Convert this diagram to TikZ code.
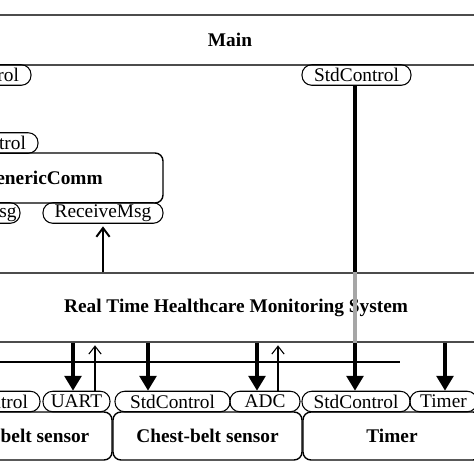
\documentclass[tikz,border=0pt]{standalone}
\usepackage{fontspec}
\setmainfont{Liberation Serif}
\usepackage{tikz}
\usetikzlibrary{arrows.meta, positioning}
\tikzset{
    iface/.style={
        draw,
        line width=0.6pt,
        rounded corners=5.5pt,
        inner sep=0pt,
        minimum height=0.41cm,
        font=\fontsize{11pt}{13pt}\selectfont
    },
    comp/.style={
        draw,
        line width=0.8pt,
        rounded corners=4.5pt,
        inner sep=0pt,
        minimum height=0.96cm,
        font=\fontsize{11pt}{13pt}\selectfont\bfseries
    },
    band/.style={
        comp,
        draw=black!70,
        rounded corners=0pt
    },
    wire/.style={
        line width=2.2pt,
        -{Triangle[width=9.5pt,length=8.5pt]}
    },
    ack/.style={
        line width=0.6pt,
        -{Straight Barb[width=7pt,length=4.5pt]},
        shorten >=1.5pt
    },
    uplink/.style={
        line width=1.1pt,
        -{Straight Barb[width=7.5pt,length=5pt]},
        shorten >=1.5pt
    }
}

\begin{document}
\begin{tikzpicture}[x=0.02cm,y=-0.02cm]
	\useasboundingbox (0,0) rectangle (474,474);
	\clip (0,0) rectangle (474,474);
	% Main
	\node[band, minimum width=10.4cm, minimum height=1cm] at (230,40) (main) {Main};
	\node[iface, minimum width=2.18cm] at (-23.5,75) (mainctlA) {StdControl};
	\node[iface, minimum width=2.18cm] at (356.5,75) (mainctlB) {StdControl};
	% GenericComm
	\node[iface, minimum width=2.18cm] at (-16.5,143) (commctl) {StdControl};
	\node[comp, minimum width=4.84cm, minimum height=1cm] at (42,178) (comm) {GenericComm};
	\node[iface, minimum width=1.6cm] at (-20,213) (sendmsg) {SendMsg};
	\node[iface, minimum width=2.4cm] at (103,213) (recvmsg) {ReceiveMsg};
	% application
	\node[band, minimum width=10.8cm, minimum height=1.38cm] at (236,307.5) (rthms) {Real Time Healthcare Monitoring System};
	% sensors and timer
	\node[iface, minimum width=2.18cm] at (-14.5,401.5) (wristctl) {StdControl};
	\node[iface, minimum width=1.34cm] at (76.5,401.5) (uart) {UART};
	\node[iface, minimum width=2.3cm] at (172.5,401.5) (chestctl) {StdControl};
	\node[iface, minimum width=1.4cm] at (265,401.5) (adc) {ADC};
	\node[iface, minimum width=2.16cm] at (356,401.5) (timerctl) {StdControl};
	\node[iface, minimum width=1.34cm] at (443.5,401.5) (timerif) {Timer};
	\node[comp, minimum width=2.68cm] at (45,436) (wrist) {belt sensor};
	\node[comp, minimum width=3.78cm] at (207.5,436) (chest) {Chest-belt sensor};
	\node[comp, minimum width=3.56cm] at (392,436) (timer) {Timer};
	% wiring
	\coordinate (busL) at (-5,362);
	\coordinate (busR) at (400,362);
	\draw[line width=0.8pt] (busL) -- (busR);
	\draw[uplink] (recvmsg.south |- rthms.north) -- (recvmsg.south);
	\draw[wire] (355,0 |- mainctlB.south) -- (355,0 |- timerctl.north);
	\draw[line width=2.4pt, black!35] (355,0 |- rthms.north) -- (355,0 |- rthms.south);
	\draw[wire] (73,0 |- rthms.south) -- (73,0 |- uart.north);
	\draw[ack] (95,0 |- uart.north) -- (95,0 |- rthms.south);
	\draw[wire] (148,0 |- rthms.south) -- (148,0 |- chestctl.north);
	\draw[wire] (257,0 |- rthms.south) -- (257,0 |- adc.north);
	\draw[ack] (278,0 |- adc.north) -- (278,0 |- rthms.south);
	\draw[wire] (445,0 |- rthms.south) -- (445,0 |- timerif.north);
\end{tikzpicture}
\end{document}
